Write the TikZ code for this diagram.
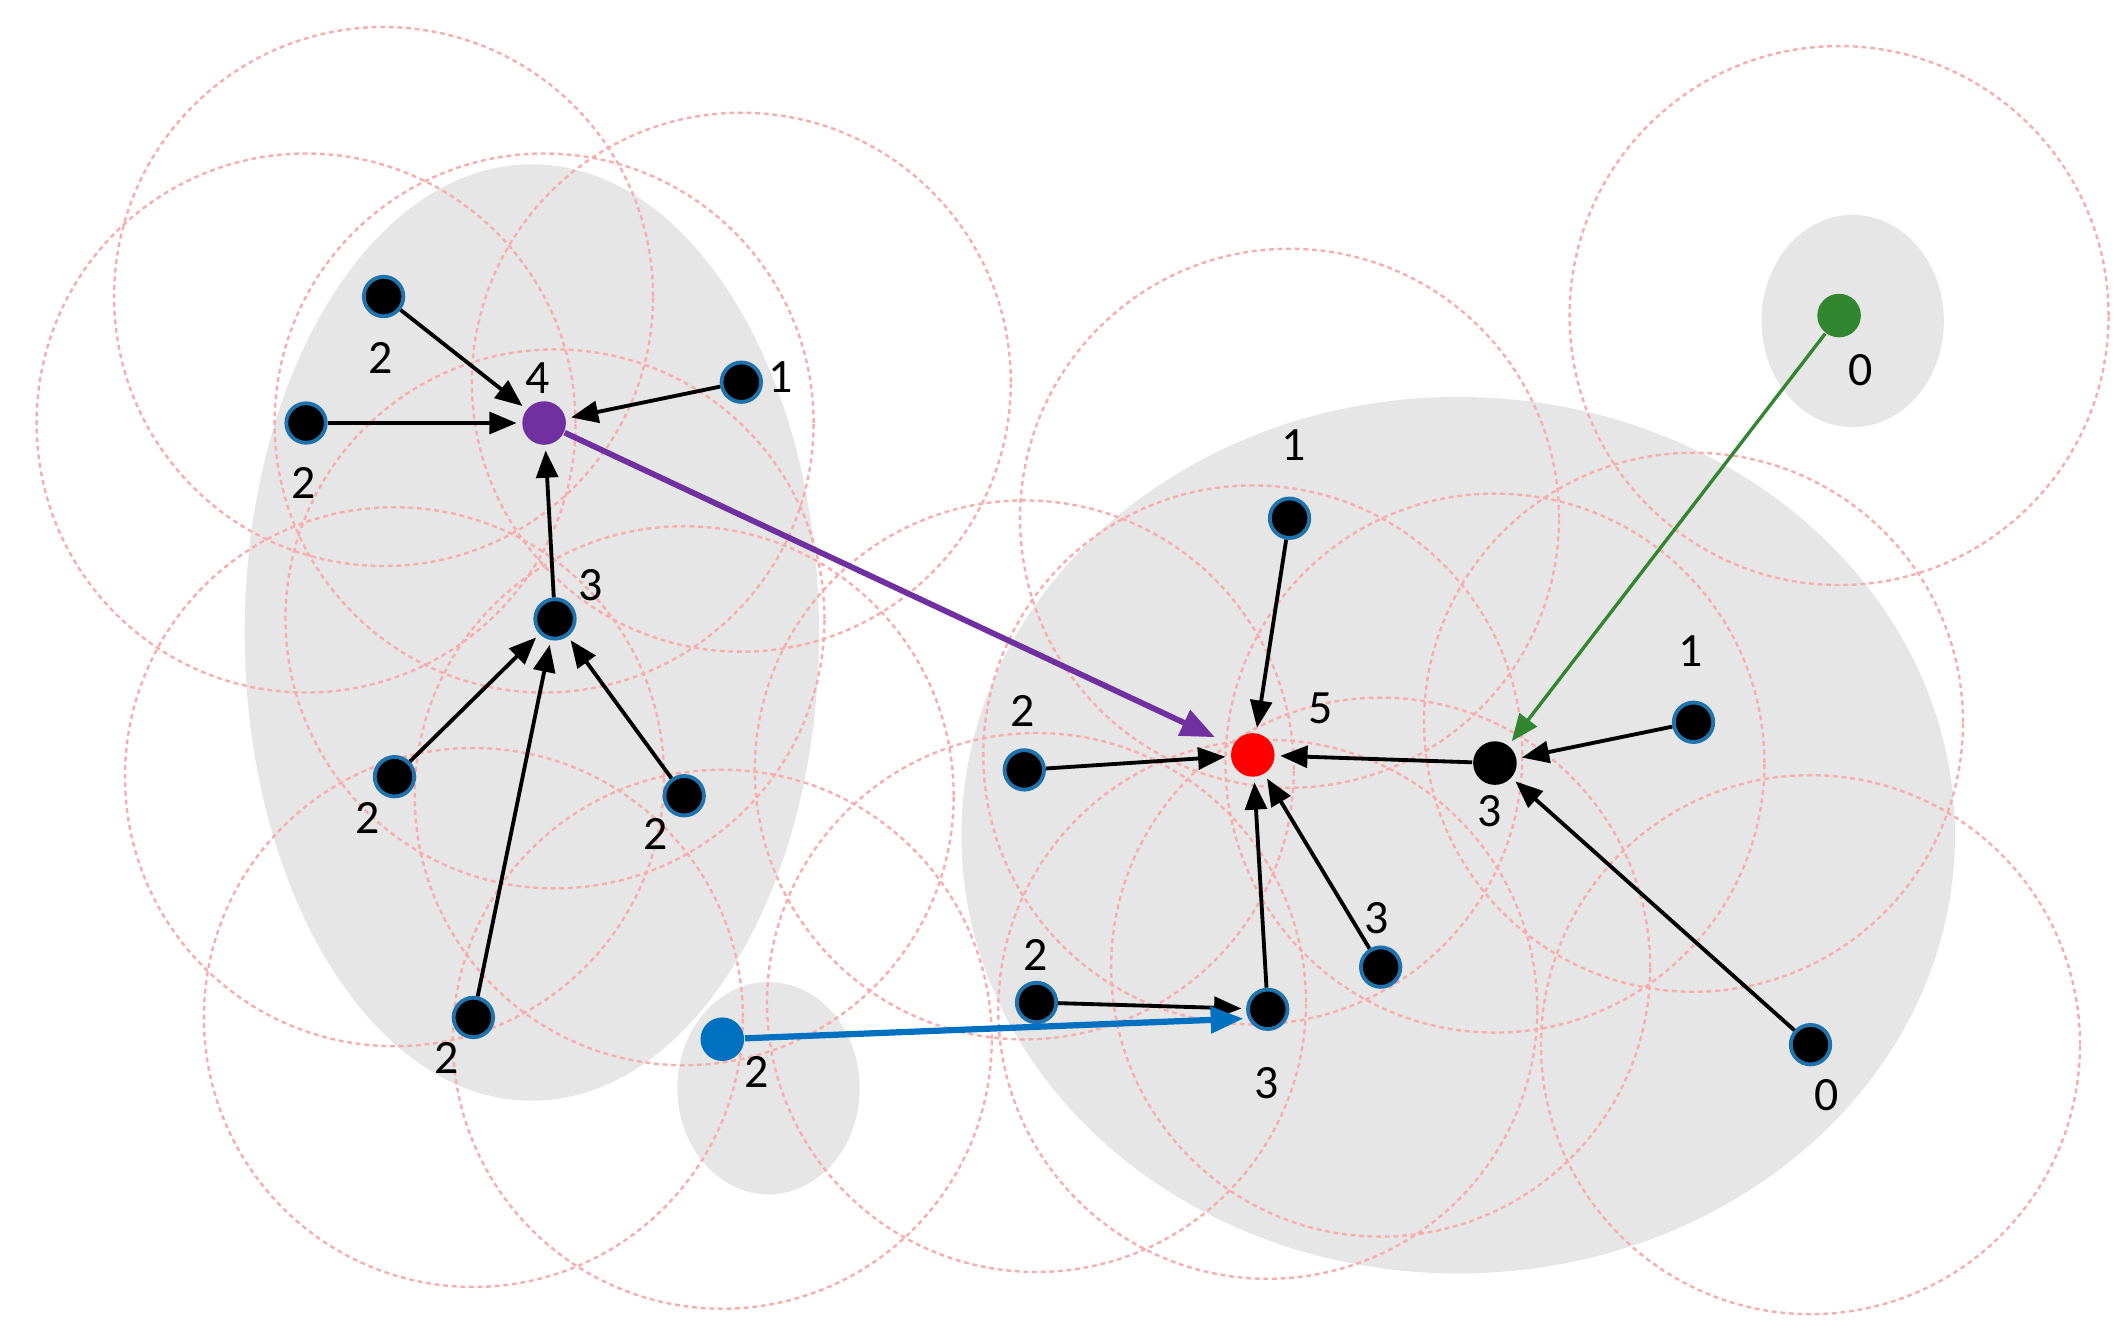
\documentclass[tikz,border=0pt]{standalone}
\usepackage{fontspec}
\setmainfont{Carlito}
\usetikzlibrary{arrows.meta}
\pgfdeclarelayer{background}
\pgfsetlayers{background,main}
\definecolor{zone}{RGB}{230,230,230}
\definecolor{ringred}{RGB}{249,172,172}
\definecolor{rim}{RGB}{30,115,175}
\definecolor{headpurple}{RGB}{112,48,160}
\definecolor{gwgreen}{RGB}{49,134,47}
\definecolor{relayblue}{RGB}{0,112,192}

\begin{document}
\begin{tikzpicture}
  [x=0.01cm,y=-0.01cm,
   sensor/.style={circle,fill=black,draw=rim,line width=0.8pt,minimum size=0.29cm,inner sep=0pt},
   head/.style={circle,minimum size=0.32cm,inner sep=0pt},
   hop/.style={font=\fontsize{10}{12}\selectfont,inner sep=0pt},
   reach/.style={draw=ringred,line width=0.5pt,dash pattern=on 1pt off 0.8pt},
   link/.style={line width=0.8pt,shorten >=1pt,-{Triangle[length=0.2cm,width=0.16cm]}}]
    \useasboundingbox (0,0) rectangle (1560,986);

    \node (a1) [sensor] at (282,218) {};
    \node (a2) [sensor] at (225,311) {};
    \node (a3) [sensor] at (545,281) {};
    \node (p)  [head,fill=headpurple] at (400,311) {};
    \node (b)  [sensor] at (408,455) {};
    \node (c1) [sensor] at (290,571) {};
    \node (c2) [sensor] at (503,585) {};
    \node (c3) [sensor] at (348,748) {};
    \node (bl) [head,fill=relayblue] at (531,764) {};

    \node (r)  [head,fill=red] at (921,555) {};
    \node (e1) [sensor] at (948,381) {};
    \node (e2) [sensor] at (753,566) {};
    \node (k)  [head,fill=black] at (1099,561) {};
    \node (f1) [sensor] at (1245,531) {};
    \node (f2) [sensor] at (1331,768) {};
    \node (g)  [head,fill=gwgreen] at (1352,232) {};
    \node (d)  [sensor] at (932,742) {};
    \node (h1) [sensor] at (762,737) {};
    \node (h2) [sensor] at (1015,711) {};

    \begin{pgfonlayer}{background}
      \fill[zone] (391,465) ellipse [x radius=2.11cm,y radius=3.44cm];
      \fill[zone] (565,800) ellipse [x radius=0.67cm,y radius=0.78cm];
      \fill[zone] (1362,236) ellipse [x radius=0.67cm,y radius=0.78cm];
      \fill[zone] (1072,614) ellipse [x radius=3.65cm,y radius=3.22cm];
      \foreach \n in {a1,a2,a3,p,b,c1,c2,c3,bl,r,e1,e2,k,f1,f2,g,d,h1,h2}
        \draw[reach] (\n) circle [radius=1.98cm];
    \end{pgfonlayer}

    \foreach \from/\to in {a1/p,a2/p,a3/p,b/p,c1/b,c2/b,c3/b,e1/r,e2/r,k/r,d/r,h2/r,h1/d,f1/k,f2/k}
      \draw[link] (\from) -- (\to);

    \draw[link,headpurple,line width=1.2pt,shorten >=4pt,-{Triangle[length=0.25cm,width=0.2cm]}] (p) -- (r);
    \draw[link,relayblue,line width=1.3pt,-{Triangle[length=0.24cm,width=0.19cm]}] (bl) -- (d.205);
    \draw[link,gwgreen,line width=0.7pt] (g) -- (k);

    \node (la1) [hop] at (280,263)  {2};
    \node (la2) [hop] at (223,355)  {2};
    \node (la3) [hop] at (574,277)  {1};
    \node (lp)  [hop] at (395,278)  {4};
    \node (lb)  [hop] at (434,430)  {3};
    \node (lc1) [hop] at (270,601)  {2};
    \node (lc2) [hop] at (482,613)  {2};
    \node (lc3) [hop] at (328,778)  {2};
    \node (lbl) [hop] at (556,788)  {2};
    \node (lr)  [hop] at (971,521)  {5};
    \node (le1) [hop] at (951,327)  {1};
    \node (le2) [hop] at (752,523)  {2};
    \node (lk)  [hop] at (1095,596) {3};
    \node (lf1) [hop] at (1243,479) {1};
    \node (lf2) [hop] at (1343,805) {0};
    \node (lg)  [hop] at (1368,272) {0};
    \node (ld)  [hop] at (931,796)  {3};
    \node (lh1) [hop] at (761,702)  {2};
    \node (lh2) [hop] at (1012,675) {3};
  \end{tikzpicture}
\end{document}
